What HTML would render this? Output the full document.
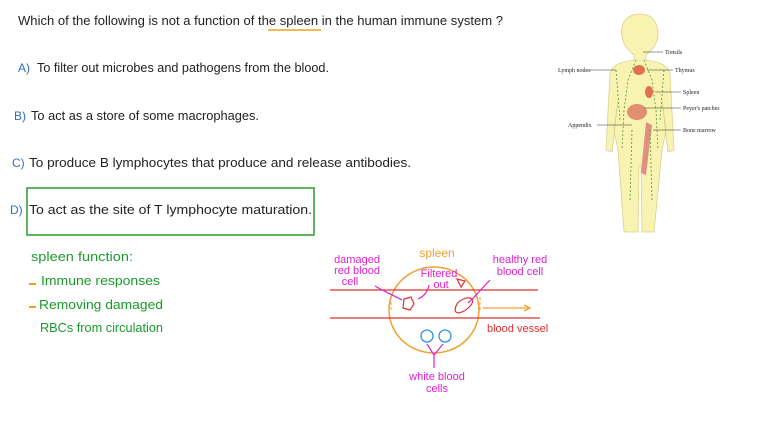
<!DOCTYPE html>
<html><head><meta charset="utf-8"><style>
html,body{margin:0;padding:0;background:#fff;}
svg{display:block}
</style></head><body>
<svg width="760" height="427" viewBox="0 0 760 427" xmlns="http://www.w3.org/2000/svg">
<g font-family="Liberation Sans, sans-serif" fill="#222" font-size="13">
<text x="18" y="25" textLength="485" lengthAdjust="spacingAndGlyphs">Which of the following is not a function of the spleen in the human immune system ?</text>
<line x1="268" y1="30" x2="321" y2="30" stroke="#f0a020" stroke-width="1.5"/>
<text x="18" y="72" fill="#3070c0" font-size="12">A)</text>
<text x="37" y="72" textLength="292" lengthAdjust="spacingAndGlyphs">To filter out microbes and pathogens from the blood.</text>
<text x="14" y="120" fill="#3070c0" font-size="12">B)</text>
<text x="31" y="120" textLength="228" lengthAdjust="spacingAndGlyphs">To act as a store of some macrophages.</text>
<text x="12" y="167" fill="#3070c0" font-size="12">C)</text>
<text x="29" y="167" textLength="382" lengthAdjust="spacingAndGlyphs">To produce B lymphocytes that produce and release antibodies.</text>
<text x="10" y="214" fill="#3070c0" font-size="12">D)</text>
<text x="29" y="214" textLength="283" lengthAdjust="spacingAndGlyphs">To act as the site of T lymphocyte maturation.</text>
</g>
<rect x="27" y="188" width="287" height="47" fill="none" stroke="#2a9a2a" stroke-width="1.5"/>

<!-- body -->
<g>
<path d="M640 14 C626 14 620 24 622 36 C623 46 630 52 634 55 L634 60 C622 62 612 64 610 74 L606 150 L612 152 L618 100 L614 130 L618 150 L624 232 L638 232 L639 165 L641 165 L642 232 L654 232 L662 150 L666 130 L662 100 L668 152 L674 150 L670 74 C668 64 658 62 646 60 L646 55 C652 50 658 44 658 34 C658 22 652 14 640 14 Z" fill="#f8f3b0" stroke="#d8d290" stroke-width="0.8"/>
<ellipse cx="639" cy="70" rx="6" ry="5" fill="#e07050"/>
<ellipse cx="649" cy="92" rx="4" ry="6" fill="#e07050"/>
<ellipse cx="637" cy="112" rx="10" ry="8" fill="#e09070"/>
<path d="M646 122 L652 125 L646 175 L641 173 Z" fill="#e09080"/>
<g fill="none" stroke="#4a9a30" stroke-width="0.8" stroke-dasharray="2 2">
<path d="M636 60 L628 80 L624 110 L622 150"/><path d="M644 60 L652 80 L656 110 L658 150"/>
<path d="M616 70 L620 120"/><path d="M664 70 L660 120"/><path d="M632 130 L630 200"/><path d="M650 130 L652 200"/>
</g>
</g>
<g font-family="Liberation Serif, serif" font-size="6" fill="#222">
<text x="665" y="54">Tonsils</text>
<text x="558" y="72">Lymph nodes</text>
<text x="675" y="72">Thymus</text>
<text x="683" y="94">Spleen</text>
<text x="683" y="110">Peyer's patches</text>
<text x="568" y="127">Appendix</text>
<text x="683" y="132">Bone marrow</text>
</g>
<g stroke="#333" stroke-width="0.6">
<line x1="643" y1="52" x2="663" y2="52"/><line x1="590" y1="70" x2="616" y2="70"/>
<line x1="647" y1="70" x2="673" y2="70"/><line x1="655" y1="92" x2="681" y2="92"/>
<line x1="644" y1="108" x2="681" y2="108"/><line x1="597" y1="125" x2="632" y2="125"/>
<line x1="653" y1="130" x2="681" y2="130"/>
</g>

<!-- spleen function -->
<g font-family="Liberation Sans, sans-serif" font-size="13" fill="#1a9a2a">
<text x="31" y="261" textLength="102" lengthAdjust="spacingAndGlyphs">spleen function:</text>
<text x="41" y="285" textLength="119" lengthAdjust="spacingAndGlyphs">Immune responses</text>
<text x="39" y="309" textLength="124" lengthAdjust="spacingAndGlyphs">Removing damaged</text>
<text x="40" y="332" textLength="123" lengthAdjust="spacingAndGlyphs">RBCs from circulation</text>
</g>
<line x1="29" y1="284" x2="36" y2="284" stroke="#f0a020" stroke-width="2"/>
<line x1="29" y1="307" x2="36" y2="307" stroke="#f0a020" stroke-width="2"/>

<!-- spleen diagram -->
<ellipse cx="434" cy="310" rx="45" ry="43" fill="none" stroke="#f0a030" stroke-width="1.5"/>
<line x1="330" y1="290" x2="538" y2="290" stroke="#e03030" stroke-width="1.3"/>
<line x1="330" y1="318" x2="540" y2="318" stroke="#e03030" stroke-width="1.3"/>
<line x1="391" y1="297" x2="391" y2="312" stroke="#f0a030" stroke-dasharray="3 2"/>
<line x1="480" y1="297" x2="480" y2="312" stroke="#f0a030" stroke-dasharray="3 2"/>
<line x1="483" y1="308" x2="528" y2="308" stroke="#f0a030" stroke-width="1.3"/>
<path d="M524 305 L530 308 L524 311" fill="none" stroke="#f0a030" stroke-width="1.3"/>
<path d="M404 299 L411 297 L414 304 L410 310 L403 308 Z" fill="none" stroke="#e03030" stroke-width="1.2"/>
<path d="M456 306 C458 300 468 296 472 299 C475 303 466 312 458 313 C454 312 455 309 456 306 Z" fill="none" stroke="#e03030" stroke-width="1.2"/>
<path d="M457 279 L465 281 L461 287 Z" fill="none" stroke="#e03030" stroke-width="1.2"/>
<circle cx="427" cy="336" r="6" fill="none" stroke="#3090e0" stroke-width="1.3"/>
<circle cx="445" cy="336" r="6" fill="none" stroke="#3090e0" stroke-width="1.3"/>
<g fill="none" stroke="#e020d0" stroke-width="1.2">
<path d="M375 286 C385 292 395 296 402 300"/>
<path d="M418 299 C425 296 428 290 429 285"/>
<path d="M490 280 C482 288 476 296 468 303"/>
<path d="M434 368 L434 355 L427 344 M434 355 L443 344"/>
</g>
<g font-family="Liberation Sans, sans-serif" font-size="11" fill="#e020d0" text-anchor="middle">
<text x="357" y="263">damaged</text><text x="357" y="274">red blood</text><text x="350" y="285">cell</text>
<text x="520" y="263">healthy red</text><text x="520" y="275">blood cell</text>
<text x="439" y="277">Filtered</text><text x="441" y="288">out</text>
<text x="437" y="380">white blood</text><text x="437" y="392">cells</text>
</g>
<text x="437" y="257" font-family="Liberation Sans, sans-serif" font-size="12" fill="#f0a030" text-anchor="middle">spleen</text>
<text x="487" y="332" font-family="Liberation Sans, sans-serif" font-size="11" fill="#e03030">blood vessel</text>
</svg>
</body></html>
